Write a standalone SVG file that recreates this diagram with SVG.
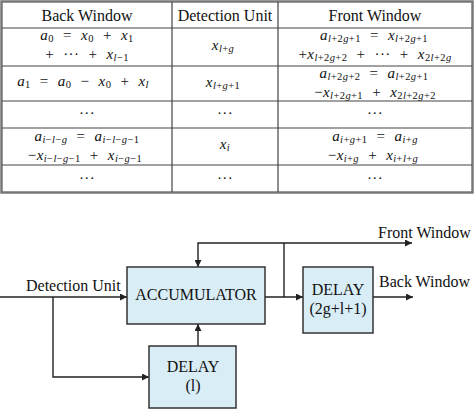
<svg xmlns="http://www.w3.org/2000/svg" width="474" height="409" viewBox="0 0 474 409" font-family="'Liberation Serif','Times New Roman',Times,'DejaVu Serif',serif">
<style>
text{font-family:"Liberation Serif","Times New Roman",Times,"DejaVu Serif",serif}
.h{font-size:16px;fill:#111;text-anchor:middle}
.m{font-size:15px;fill:#111;text-anchor:middle;word-spacing:5px;letter-spacing:0.4px}
.i{font-style:italic}
.s{font-size:10.5px}
.l{font-size:16px;fill:#111}
.c{text-anchor:middle}
.grid{stroke:#444;stroke-width:1.2;fill:none}
.box{fill:#d9edf7;stroke:#333;stroke-width:1.5}
.w{stroke:#222;stroke-width:1.4;fill:none}
</style>
<defs>
<marker id="ah" viewBox="0 0 10 10" refX="10" refY="5" markerWidth="7" markerHeight="7" markerUnits="userSpaceOnUse" orient="auto">
<path d="M0,0 L10,5 L0,10 Z" fill="#222"/>
</marker>
</defs>
<g id="table">
<rect x="1.5" y="1.5" width="471" height="191" fill="#fff" stroke="#777" stroke-width="2.5"/>
<path class="grid" d="M172 2V192M278 2V192M2 28H472M2 66H472M2 101H472M2 128H472M2 165H472"/>
<text class="h" x="87" y="21">Back Window</text>
<text class="h" x="225" y="21">Detection Unit</text>
<text class="h" x="375" y="21">Front Window</text>
<text class="m" x="87" y="40"><tspan class="i">a</tspan><tspan class="s" dy="2">0</tspan><tspan dy="-2"> = </tspan><tspan class="i">x</tspan><tspan class="s" dy="2">0</tspan><tspan dy="-2"> + </tspan><tspan class="i">x</tspan><tspan class="s" dy="2">1</tspan></text>
<text class="m" x="87" y="59">+ ··· + <tspan class="i">x</tspan><tspan class="s i" dy="2">l</tspan><tspan class="s" >−1</tspan></text>
<text class="m" x="223" y="50"><tspan class="i">x</tspan><tspan class="s i" dy="2">l</tspan><tspan class="s">+</tspan><tspan class="s i">g</tspan></text>
<text class="m" x="374" y="40"><tspan class="i">a</tspan><tspan class="s" dy="2"><tspan class="i">l</tspan>+2<tspan class="i">g</tspan>+1</tspan><tspan dy="-2"> = </tspan><tspan class="i">x</tspan><tspan class="s" dy="2"><tspan class="i">l</tspan>+2<tspan class="i">g</tspan>+1</tspan></text>
<text class="m" x="375" y="59">+<tspan class="i">x</tspan><tspan class="s" dy="2"><tspan class="i">l</tspan>+2<tspan class="i">g</tspan>+2</tspan><tspan dy="-2"> + ··· + </tspan><tspan class="i">x</tspan><tspan class="s" dy="2">2<tspan class="i">l</tspan>+2<tspan class="i">g</tspan></tspan></text>
<text class="m" x="83" y="86"><tspan class="i">a</tspan><tspan class="s" dy="2">1</tspan><tspan dy="-2"> = </tspan><tspan class="i">a</tspan><tspan class="s" dy="2">0</tspan><tspan dy="-2"> − </tspan><tspan class="i">x</tspan><tspan class="s" dy="2">0</tspan><tspan dy="-2"> + </tspan><tspan class="i">x</tspan><tspan class="s i" dy="2">l</tspan></text>
<text class="m" x="223" y="87"><tspan class="i">x</tspan><tspan class="s i" dy="2">l</tspan><tspan class="s">+</tspan><tspan class="s i">g</tspan><tspan class="s">+1</tspan></text>
<text class="m" x="374" y="78"><tspan class="i">a</tspan><tspan class="s" dy="2"><tspan class="i">l</tspan>+2<tspan class="i">g</tspan>+2</tspan><tspan dy="-2"> = </tspan><tspan class="i">a</tspan><tspan class="s" dy="2"><tspan class="i">l</tspan>+2<tspan class="i">g</tspan>+1</tspan></text>
<text class="m" x="375" y="96.5">−<tspan class="i">x</tspan><tspan class="s" dy="2"><tspan class="i">l</tspan>+2<tspan class="i">g</tspan>+1</tspan><tspan dy="-2"> + </tspan><tspan class="i">x</tspan><tspan class="s" dy="2">2<tspan class="i">l</tspan>+2<tspan class="i">g</tspan>+2</tspan></text>
<text class="m" x="87" y="118">···</text>
<text class="m" x="225" y="118">···</text>
<text class="m" x="375" y="118">···</text>
<text class="m" x="87" y="141"><tspan class="i">a</tspan><tspan class="s" dy="2"><tspan class="i">i</tspan>−<tspan class="i">l</tspan>−<tspan class="i">g</tspan></tspan><tspan dy="-2"> = </tspan><tspan class="i">a</tspan><tspan class="s" dy="2"><tspan class="i">i</tspan>−<tspan class="i">l</tspan>−<tspan class="i">g</tspan>−1</tspan></text>
<text class="m" x="85" y="159.5">−<tspan class="i">x</tspan><tspan class="s" dy="2"><tspan class="i">i</tspan>−<tspan class="i">l</tspan>−<tspan class="i">g</tspan>−1</tspan><tspan dy="-2"> + </tspan><tspan class="i">x</tspan><tspan class="s" dy="2"><tspan class="i">i</tspan>−<tspan class="i">g</tspan>−1</tspan></text>
<text class="m" x="225" y="149"><tspan class="i">x</tspan><tspan class="s i" dy="2">i</tspan></text>
<text class="m" x="375" y="141"><tspan class="i">a</tspan><tspan class="s" dy="2"><tspan class="i">i</tspan>+<tspan class="i">g</tspan>+1</tspan><tspan dy="-2"> = </tspan><tspan class="i">a</tspan><tspan class="s" dy="2"><tspan class="i">i</tspan>+<tspan class="i">g</tspan></tspan></text>
<text class="m" x="373" y="159.5">−<tspan class="i">x</tspan><tspan class="s" dy="2"><tspan class="i">i</tspan>+<tspan class="i">g</tspan></tspan><tspan dy="-2"> + </tspan><tspan class="i">x</tspan><tspan class="s" dy="2"><tspan class="i">i</tspan>+<tspan class="i">l</tspan>+<tspan class="i">g</tspan></tspan></text>
<text class="m" x="87" y="183">···</text>
<text class="m" x="225" y="183">···</text>
<text class="m" x="375" y="183">···</text>
</g>
<g id="connectors">
<path class="w" d="M0 297H127" marker-end="url(#ah)"/>
<path class="w" d="M53 297V377H149" marker-end="url(#ah)"/>
<path class="w" d="M198 346V324" marker-end="url(#ah)"/>
<path class="w" d="M265 297H303" marker-end="url(#ah)"/>
<path class="w" d="M284 297V243"/>
<path class="w" d="M284 243H198V267" marker-end="url(#ah)"/>
<path class="w" d="M284 243H412" marker-end="url(#ah)"/>
<path class="w" d="M373 297H413" marker-end="url(#ah)"/>
</g>
<g id="accumulator">
<rect class="box" x="127" y="267" width="138" height="57"/>
<text class="l c" x="196" y="300">ACCUMULATOR</text>
</g>
<g id="delay-l">
<rect class="box" x="149" y="346" width="87" height="62"/>
<text class="l c" x="193" y="372">DELAY</text>
<text class="l c" x="193" y="391">(l)</text>
</g>
<g id="delay-2g">
<rect class="box" x="303" y="267" width="70" height="66"/>
<text class="l c" x="338" y="295">DELAY</text>
<text class="l c" x="338" y="314">(2g+l+1)</text>
</g>
<g id="labels">
<text class="l" x="26" y="291">Detection Unit</text>
<text class="l" x="378" y="238">Front Window</text>
<text class="l" x="379" y="287">Back Window</text>
</g>
</svg>
